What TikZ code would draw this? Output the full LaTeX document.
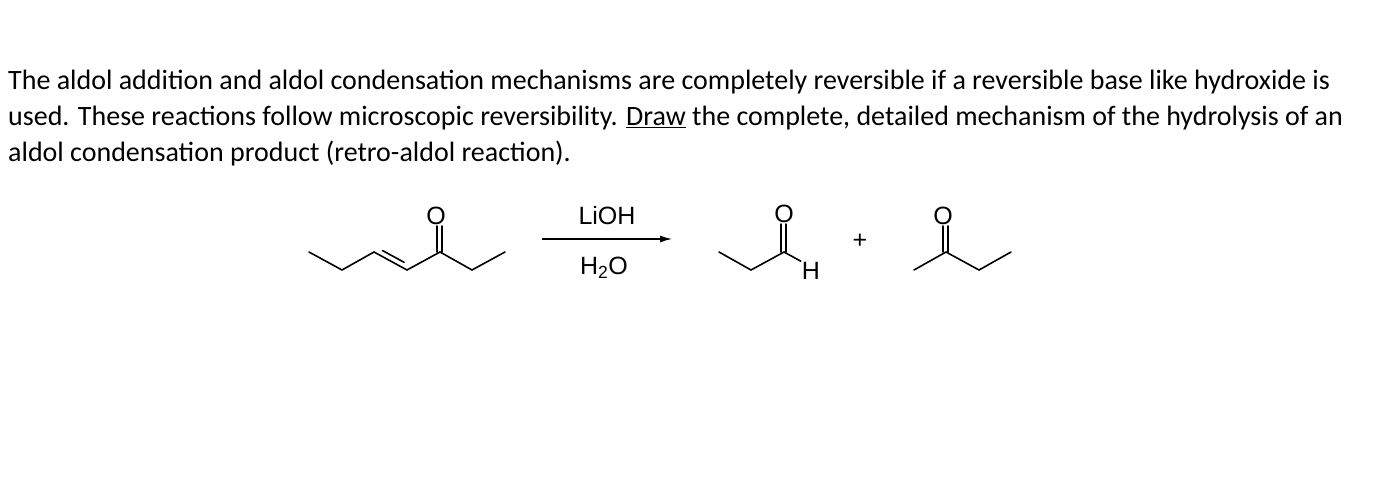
\documentclass[tikz,border=0pt]{standalone}
\usepackage{fontspec}
\setmainfont{Carlito}
\newfontfamily\arial{Liberation Sans}
\usetikzlibrary{calc,arrows.meta}
\begin{document}
\begin{tikzpicture}[x=1pt,y=-1pt,
  txt/.style={anchor=base west,inner sep=0pt,font=\fontsize{28}{33}\selectfont},
  lab/.style={inner sep=1pt,font=\arial\fontsize{25}{29}\selectfont},
  bond/.style={line width=1.6pt,line cap=round}]
\useasboundingbox (0,0) rectangle (1381,502);
\node[txt] (l1) at (8,90) {The aldol addition and aldol condensation mechanisms are completely reversible if a reversible base like hydroxide is};
\node[txt] (l2) at (8,126) {used. These reactions follow microscopic reversibility. \underline{Draw} the complete, detailed mechanism of the hydrolysis of an};
\node[txt] (l3) at (8,162) {aldol condensation product (retro-aldol reaction).};
% reactant
\coordinate (a1) at (309,252); \coordinate (a2) at (342,270); \coordinate (a3) at (374,252);
\coordinate (a4) at (407,270); \coordinate (a5) at (440,252); \coordinate (a6) at (472,270);
\coordinate (a7) at (505,252);
\node[lab] (o1) at (436,216) {O};
\draw[bond] (a1)--(a2)--(a3)--(a4)--(a5)--(a6)--(a7);
\draw[bond] ($(a3)!0.2!(a4)+(2,-5)$)--($(a3)!0.85!(a4)+(2,-5)$);
\draw[bond] ([xshift=2]a5)--([xshift=2]a5|-o1.south);
\draw[bond] ([xshift=-3]a5)--([xshift=-3]a5|-o1.south);
% arrow
\coordinate (r1) at (542,239); \coordinate (r2) at (672,239);
\draw[line width=1.3pt,-{Latex[length=12pt,width=7pt]}] (r1)--(r2);
\node[lab] (li) at (607,216) {LiOH};
\node[lab] (w) at (604,268) {H\textsubscript{2}O};
% propanal
\coordinate (b1) at (719,252); \coordinate (b2) at (751,270); \coordinate (b3) at (784,252);
\node[lab] (o2) at (784,214) {O};
\node[lab] (h) at (811,271) {H};
\draw[bond] (b1)--(b2)--(b3)--(h.north west);
\draw[bond] ([xshift=2]b3)--([xshift=2]b3|-o2.south);
\draw[bond] ([xshift=-3]b3)--([xshift=-3]b3|-o2.south);
\node[lab] (plus) at (860,241) {+};
% butanone
\coordinate (c1) at (914,270); \coordinate (c2) at (946,252); \coordinate (c3) at (979,270);
\coordinate (c4) at (1011,252);
\node[lab] (o3) at (943,216) {O};
\draw[bond] (c1)--(c2)--(c3)--(c4);
\draw[bond] ([xshift=2]c2)--([xshift=2]c2|-o3.south);
\draw[bond] ([xshift=-3]c2)--([xshift=-3]c2|-o3.south);
\end{tikzpicture}
\end{document}
